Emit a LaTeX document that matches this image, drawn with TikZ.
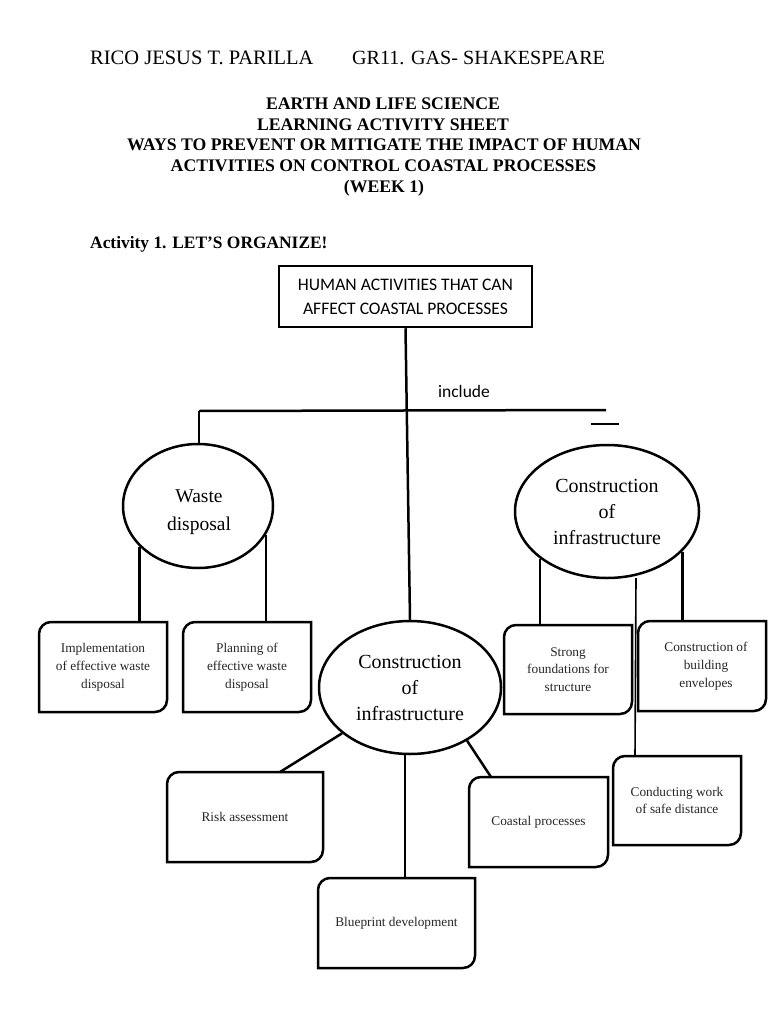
\documentclass[tikz,border=0pt]{standalone}
\usepackage{fontspec}
\setmainfont{Liberation Serif}
\newfontfamily\calibrifont{Carlito}
\usetikzlibrary{shapes.geometric,calc}
\tikzset{
  x=1pt,y=-1pt,
  heading/.style={font=\fontsize{17.7}{20}\selectfont\bfseries,align=center,inner sep=0},
  author/.style={font=\fontsize{20.5}{24}\selectfont,anchor=west,inner sep=0},
  bubble/.style={draw=black,line width=2.5pt,shape=ellipse,inner sep=0,align=center,font=\fontsize{20}{26}\selectfont},
  cardtext/.style={align=center,inner sep=0,font=\fontsize{13.3}{17.8}\selectfont,text=black!85},
  card/.style={line width=2.5pt,rounded corners=0pt},
  link/.style={line width=2.5pt},
  thinlink/.style={line width=1.6pt}
}
% name, x1, y1, x2, y2, text
\newcommand{\cardbox}[6]{%
  \draw[card] (#2,#5) -- (#2,#3+12) arc[start angle=180,end angle=90,x radius=12,y radius=-12] -- (#4,#3) -- (#4,#5-12) arc[start angle=0,end angle=-90,x radius=12,y radius=-12] -- cycle;
  \node[cardtext,minimum width=#4-#2,minimum height=#5-#3] (#1) at ({(#2+#4)/2},{(#3+#5)/2}) {#6};
}
\begin{document}
\begin{tikzpicture}
\useasboundingbox[fill=white] (0,0) rectangle (768,1024);
\node[author] (who) at (90,58) {RICO JESUS T. PARILLA};
\node[author,font=\fontsize{20.1}{24}\selectfont] (grade) at (352,58) {GR11. GAS- SHAKESPEARE};
\node[heading] (t1) at (383,104) {EARTH AND LIFE SCIENCE};
\node[heading] (t2) at (383,125) {LEARNING ACTIVITY SHEET};
\node[heading] (t3) at (384,145) {WAYS TO PREVENT OR MITIGATE THE IMPACT OF HUMAN};
\node[heading] (t4) at (383.5,166) {ACTIVITIES ON CONTROL COASTAL PROCESSES};
\node[heading] (t5) at (384,188) {(WEEK 1)};
\node[heading,anchor=west,font=\fontsize{17.4}{20}\selectfont\bfseries] (act) at (90,244) {Activity 1. LET’S ORGANIZE!};

\node[draw=black,line width=2.5pt,minimum width=253,minimum height=61,inner sep=0,align=center,
  font=\calibrifont\fontsize{17.6}{24}\selectfont] (main) at (405.5,296.5) {HUMAN ACTIVITIES THAT CAN\\AFFECT COASTAL PROCESSES};
\node[inner sep=0,font=\calibrifont\fontsize{17.5}{18}\selectfont] (inc) at (464,391) {include};

\node[bubble,minimum width=150,minimum height=124] (waste) at (198,506) {};
\node[inner sep=0,align=center,font=\fontsize{19.5}{28}\selectfont] (wastelabel) at (199,512) {Waste\\disposal};
\node[bubble,minimum width=184,minimum height=133] (right) at (607,511.5) {Construction\\of\\infrastructure};
\node[bubble,minimum width=182,minimum height=133] (centre) at (410,687.5) {Construction\\of\\infrastructure};

\cardbox{impl}{39}{622}{167}{712}{Implementation\\of effective waste\\disposal}
\cardbox{plan}{183}{622}{311}{712}{Planning of\\effective waste\\disposal}
\cardbox{risk}{167}{772}{323}{862}{Risk assessment}
\cardbox{blue}{318}{878}{475}{968}{Blueprint development}
\cardbox{strong}{504}{625}{632}{714}{Strong\\foundations for\\structure}
\cardbox{env}{638}{621}{766}{711}{\hspace*{8pt}Construction of\\\hspace*{8pt}building\\\hspace*{8pt}envelopes}
\cardbox{safe}{613}{756}{741}{845}{Conducting work\\of safe distance}
\cardbox{coast}{469}{777}{608}{867}{Coastal processes}

\coordinate (hl) at (199,411);
\coordinate (hr) at (606,410);
\coordinate (da) at (591,424);
\coordinate (db) at (619,424);
\coordinate (riskin) at (280,772);
\coordinate (coastin) at (491,777);
\coordinate (bluein) at (405,878);
\coordinate (safein) at (635,756);
\coordinate (safeout) at (636,578);
\draw[link] (main.south) -- (centre.north);
\draw[link] (hl) -- (hr);
\draw[link] (da) -- (db);
\draw[link] (hl) -- (waste.north -| hl);
\draw[link] (waste.215) -- (waste.215 |- impl.north);
\draw[link] (waste.337) -- (waste.337 |- plan.north);
\draw[thinlink] (right.215) -- (right.215 |- strong.north);
\draw[link] (right.332) -- (right.332 |- env.north);
\draw[thinlink] (safeout) -- (safein);
\draw[link] (centre.214) -- (riskin);
\draw[link] (centre.317) -- (coastin);
\draw[link] (bluein |- centre.south) -- (bluein);
\end{tikzpicture}
\end{document}
